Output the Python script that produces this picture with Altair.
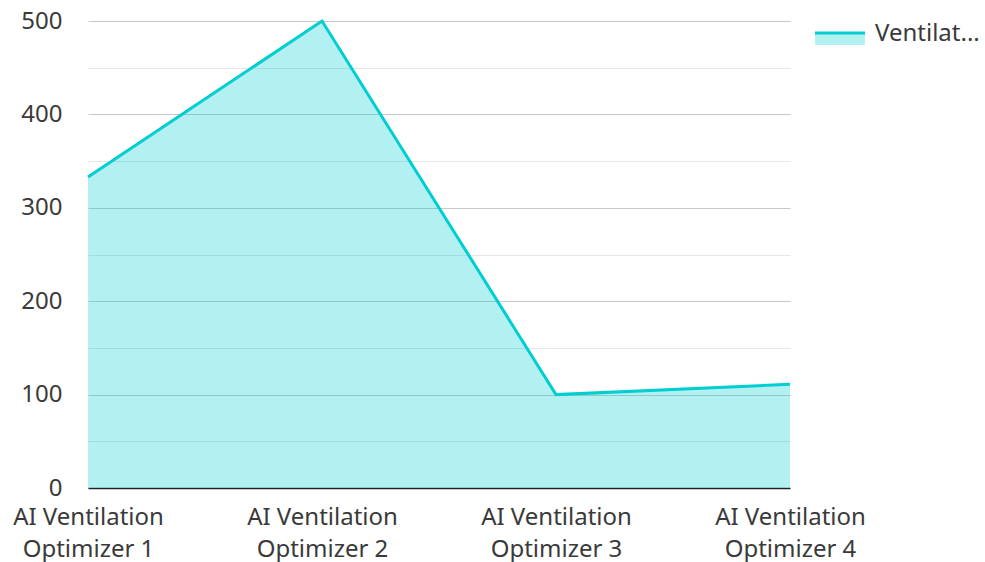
import altair as alt
import pandas as pd

categories = [
    "AI Ventilation Optimizer 1",
    "AI Ventilation Optimizer 2",
    "AI Ventilation Optimizer 3",
    "AI Ventilation Optimizer 4",
]
values = [333, 500, 100, 111]
legend_label = ["Ventilat..."]
y_ticks = [0, 50, 100, 150, 200, 250, 300, 350, 400, 450, 500]

COLOR = "#00CED1"
FONT = "Noto Sans"
TEXT = "#3a3a3a"
FS = 24

df = pd.DataFrame({"device": categories, "value": values})
leg = pd.DataFrame({"label": legend_label})

x = alt.X(
    "device:N",
    sort=categories,
    scale=alt.Scale(type="point", padding=0),
    axis=alt.Axis(
        title=None,
        labelAngle=0,
        labelExpr="['AI Ventilation', replace(datum.label, 'AI Ventilation ', '')]",
        labelFont=FONT,
        labelFontSize=FS,
        labelLineHeight=32,
        labelColor=TEXT,
        labelPadding=17,
        labelFlush=False,
        labelOverlap=False,
        ticks=False,
        domainColor="#222222",
        domainWidth=1.5,
        grid=False,
    ),
)
y = alt.Y(
    "value:Q",
    scale=alt.Scale(domain=[0, 500], nice=False),
    axis=alt.Axis(
        title=None,
        values=y_ticks,
        labelExpr="datum.value % 100 === 0 ? datum.label : ''",
        labelFont=FONT,
        labelFontSize=FS,
        labelColor=TEXT,
        labelPadding=26,
        labelOverlap=False,
        domain=False,
        ticks=False,
        gridColor=alt.condition("datum.value % 100 === 0", alt.value("#c8c8c8"), alt.value("#e6e6e6")),
        gridWidth=1,
    ),
)

base = alt.Chart(df)
area = base.mark_area(color=COLOR, opacity=0.3).encode(x=x, y=y)
line = base.mark_line(color=COLOR, strokeWidth=3).encode(x=x, y=y)

lg = alt.Chart(leg)
leg_fill = lg.mark_rect(color=COLOR, opacity=0.3).encode(
    x=alt.value(727), x2=alt.value(777), y=alt.value(12), y2=alt.value(24)
)
leg_line = lg.mark_rule(color=COLOR, strokeWidth=3).encode(
    x=alt.value(727), x2=alt.value(777), y=alt.value(12)
)
leg_text = lg.mark_text(
    align="left", baseline="middle", font=FONT, fontSize=FS, color=TEXT
).encode(x=alt.value(787), y=alt.value(13), text="label:N")

chart = (
    alt.layer(area, line, leg_fill, leg_line, leg_text)
    .properties(
        width=702,
        height=467,
        autosize=alt.AutoSizeParams(type="none"),
        padding={"left": 88, "top": 21, "right": 195, "bottom": 74},
    )
    .configure(background="white")
    .configure_view(stroke=None)
)

chart.save("out.html", embed_options={"renderer": "svg", "actions": False})
